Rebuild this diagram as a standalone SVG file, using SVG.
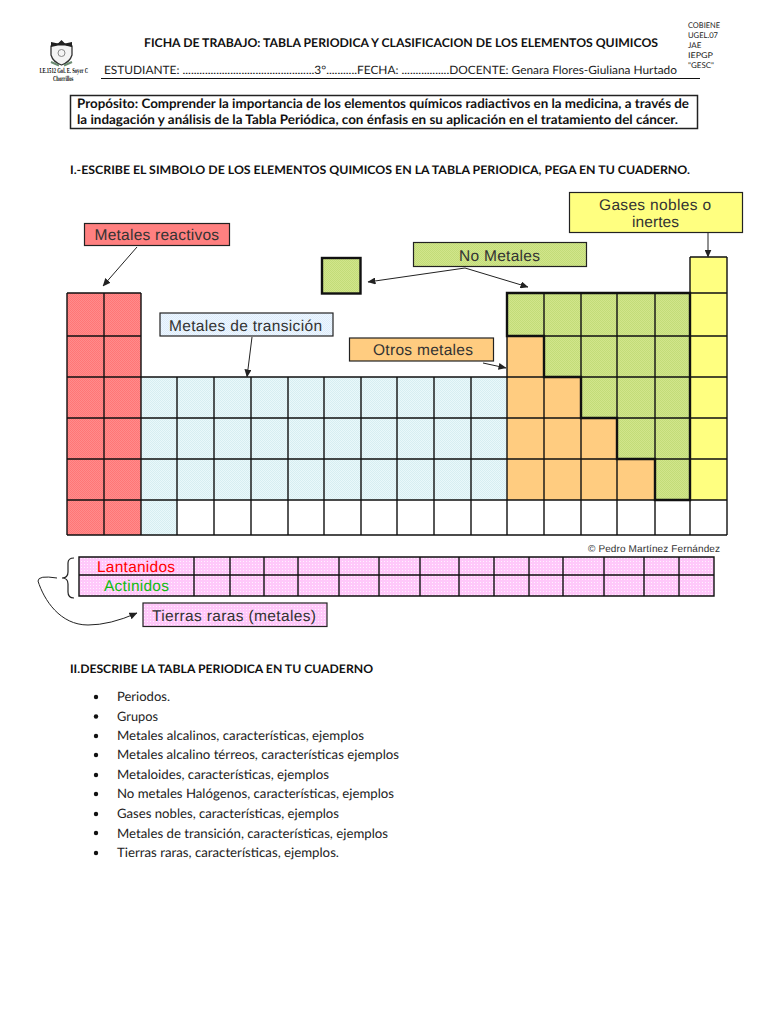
<svg xmlns="http://www.w3.org/2000/svg" width="768" height="1024" viewBox="0 0 768 1024">
<style>
text{text-rendering:geometricPrecision}
.b{font-family:Lato,"Liberation Sans",sans-serif;font-weight:bold;fill:#111}
.r{font-family:Lato,"Liberation Sans",sans-serif;fill:#222}
.v{font-family:"Liberation Sans",sans-serif;fill:#333}
.g{stroke:#111;stroke-width:1.4;fill:none}
.t{stroke:#111;stroke-width:2.4;fill:none}
.k{stroke:#222;stroke-width:1;fill:none}
.box{stroke:#222;stroke-width:1.2}
</style>
<defs>
<marker id="a" markerWidth="8" markerHeight="7" refX="7.500" refY="3.500" orient="auto" markerUnits="userSpaceOnUse"><path d="M0 0L8 3.500L0 7z" fill="#222"/></marker>
<pattern id="red" width="2" height="2" patternUnits="userSpaceOnUse"><rect width="2" height="2" fill="#ff8c8c"/><rect width="1" height="1" fill="#ff7676"/><rect x="1" y="1" width="1" height="1" fill="#ff7676"/></pattern>
<pattern id="blue" width="2" height="2" patternUnits="userSpaceOnUse"><rect width="2" height="2" fill="#eaf8fb"/><rect width="1" height="1" fill="#d6eef1"/><rect x="1" y="1" width="1" height="1" fill="#d6eef1"/></pattern>
<pattern id="green" width="2" height="2" patternUnits="userSpaceOnUse"><rect width="2" height="2" fill="#d2e58c"/><rect width="1" height="1" fill="#c2dc78"/><rect x="1" y="1" width="1" height="1" fill="#c2dc78"/></pattern>
<pattern id="pink" width="3" height="3" patternUnits="userSpaceOnUse"><rect width="3" height="3" fill="#ffc8fa"/><rect width="1" height="1" fill="#fff0ff"/></pattern>
<pattern id="lblue" width="2" height="2" patternUnits="userSpaceOnUse"><rect width="2" height="2" fill="#eef6ff"/><rect width="1" height="1" fill="#dcecfa"/><rect x="1" y="1" width="1" height="1" fill="#dcecfa"/></pattern>
</defs>
<rect width="768" height="1024" fill="#fff"/>
<g id="logo">
<path d="M51 46L61 43L72 46L72 55Q70 62 61.500 65Q53 62 51 55z" fill="#f4f4f4" stroke="#333" stroke-width="1.300"/>
<path d="M51 42L58 43.500L61.500 40L65 43.500L72 42L72 47L65 45.500L58 45.500L51 47z" fill="#222"/>
<circle cx="61.500" cy="53" r="3.500" fill="none" stroke="#888"/>
<path d="M51 62L59 65.500M72 62L64 65.500" stroke="#6a8a70" stroke-width="2"/>
<text transform="translate(39.500 73) scale(.62 1)" font-family="Liberation Serif,serif" font-weight="bold" fill="#111" font-size="7.500">I.E.1512 Gol. E. Soyer C</text>
<text transform="translate(53 81) scale(.62 1)" font-family="Liberation Serif,serif" font-weight="bold" fill="#111" font-size="7.500">Chorrillos</text>
</g>
<g id="header">
<text x="144" y="47" class="b" font-size="12" textLength="514" lengthAdjust="spacingAndGlyphs">FICHA DE TRABAJO: TABLA PERIODICA Y CLASIFICACION DE LOS ELEMENTOS QUIMICOS</text>
<text x="104" y="73.500" class="r" font-size="11.500" textLength="573" lengthAdjust="spacingAndGlyphs">ESTUDIANTE: ...............................................3°...........FECHA: .................DOCENTE: Genara Flores-Giuliana Hurtado</text>
<path d="M101 78.500H700" stroke="#111" stroke-width="1"/>
<g class="r" font-size="8"><text x="688" y="28" textLength="32" lengthAdjust="spacingAndGlyphs">COBIENE</text><text x="688" y="38" textLength="30" lengthAdjust="spacingAndGlyphs">UGEL.07</text><text x="688" y="48">JAE</text><text x="688" y="58" textLength="25" lengthAdjust="spacingAndGlyphs">IEPGP</text><text x="688" y="68" textLength="26" lengthAdjust="spacingAndGlyphs">"GESC"</text></g>
</g>
<g id="proposito">
<rect x="70.500" y="95.500" width="627" height="33" fill="#fff" stroke="#222" stroke-width="1.500"/>
<text x="77" y="107.500" class="b" font-size="13" textLength="612" lengthAdjust="spacingAndGlyphs">Propósito: Comprender la importancia de los elementos químicos radiactivos en la medicina, a través de</text>
<text x="77" y="123.500" class="b" font-size="13" textLength="601" lengthAdjust="spacingAndGlyphs">la indagación y análisis de la Tabla Periódica, con énfasis en su aplicación en el tratamiento del cáncer.</text>
</g>
<text x="70" y="174" class="b" font-size="11.800" textLength="620" lengthAdjust="spacingAndGlyphs">I.-ESCRIBE EL SIMBOLO DE LOS ELEMENTOS QUIMICOS EN LA TABLA PERIODICA, PEGA EN TU CUADERNO.</text>
<g id="table-fills">
<rect x="67" y="293" width="74" height="242" fill="url(#red)"/>
<rect x="141" y="377" width="366" height="123" fill="url(#blue)"/>
<rect x="141" y="500" width="36" height="35" fill="url(#blue)"/>
<path d="M507 293H690V500H655V459H617V418H581V377H544V336H507z" fill="url(#green)"/>
<path d="M507 336H544V377H581V418H617V459H655V500H507z" fill="#ffcc80"/>
<rect x="690" y="257" width="37" height="243" fill="#ffff80"/>
</g>
<g id="table-grid" class="g">
<path d="M67 293H141M507 293H727M690 257H727M67 336H141M507 336H727M67 377H727M67 418H727M67 459H727M67 500H727M67 535H727"/>
<path d="M67 293V535M104 293V535M141 293V535M177 377V535M214 377V535M251 377V535M288 377V535M324 377V535M361 377V535M397 377V535M434 377V535M471 377V535M507 293V535M544 293V535M581 293V535M617 293V535M655 293V535M690 257V535M727 257V535"/>
<path class="t" d="M507 336V293H690V500H655V459H617V418H581V377H544V336z"/>
</g>
<g id="metales-reactivos"><rect class="box" x="84.500" y="223.500" width="145" height="22" fill="#ff8080"/><text x="94.500" y="240" class="v" font-size="15.500" textLength="124.500">Metales reactivos</text></g>
<g id="no-metal-swatch"><rect x="322" y="258" width="38.500" height="35.500" fill="url(#green)" stroke="#111" stroke-width="2.400"/></g>
<g id="metales-transicion"><rect class="box" x="160" y="313" width="173" height="23" fill="url(#lblue)"/><text x="169" y="331" class="v" font-size="15.500" textLength="153">Metales de transición</text></g>
<g id="no-metales"><rect class="box" x="413.500" y="242.500" width="173" height="24" fill="url(#green)"/><text x="459" y="261" class="v" font-size="15.500" textLength="81">No Metales</text></g>
<g id="otros-metales"><rect class="box" x="349.500" y="338" width="144" height="23" fill="#ffcc80"/><text x="373" y="355" class="v" font-size="15.500" textLength="100">Otros metales</text></g>
<g id="gases-nobles"><rect class="box" x="569.500" y="192.500" width="173" height="40" fill="#ffff80"/><text x="599" y="210" class="v" font-size="15.500" textLength="112">Gases nobles o</text><text x="632" y="227" class="v" font-size="15.500" textLength="47">inertes</text></g>
<g id="connectors" class="k">
<path d="M137 247L103 286" marker-end="url(#a)"/>
<path d="M252 337L247 377" marker-end="url(#a)"/>
<path d="M465 268L368 282" marker-end="url(#a)"/>
<path d="M465 268L528 287" marker-end="url(#a)"/>
<path d="M483 363L506 368" marker-end="url(#a)"/>
<path d="M708 232V257" marker-end="url(#a)"/>
<path d="M57 578Q38 575 38 581C44 600 60 625 88 625Q110 625 137 613" marker-end="url(#a)"/>
<path d="M74 558Q68 558 68 563V572Q68 578 62 578Q68 578 68 584V592Q68 598 74 598" stroke-width="1.200"/>
</g>
<text x="588" y="552" class="v" font-size="10" id="credit" textLength="132">© Pedro Martínez Fernández</text>
<g id="tierras-raras-table">
<rect x="79" y="557" width="635" height="39" fill="url(#pink)"/>
<path class="g" d="M79 557H714V596H79zM79 575H714M194 557V596M230 557V596M264 557V596M298 557V596M339 557V596M379 557V596M420 557V596M459 557V596M494 557V596M529 557V596M563 557V596M604 557V596M644 557V596M679 557V596"/>
<text x="97" y="572" font-family="Liberation Sans,sans-serif" font-size="15.500" fill="#f00" textLength="78">Lantanidos</text>
<text x="104" y="591" font-family="Liberation Sans,sans-serif" font-size="15.500" fill="#1b1" textLength="65">Actinidos</text>
</g>
<g id="tierras-raras"><rect class="box" x="143" y="603" width="184" height="23.500" fill="url(#pink)"/><text x="152" y="621" class="v" font-size="15.500" textLength="164">Tierras raras (metales)</text></g>
<text x="70" y="672.500" class="b" font-size="11.800" textLength="303" lengthAdjust="spacingAndGlyphs">II.DESCRIBE LA TABLA PERIODICA EN TU CUADERNO</text>
<g id="lista" class="r" font-size="13">
<text x="117" y="701" textLength="53" lengthAdjust="spacingAndGlyphs">Periodos.</text>
<text x="117" y="721" textLength="41" lengthAdjust="spacingAndGlyphs">Grupos</text>
<text x="117" y="740" textLength="247" lengthAdjust="spacingAndGlyphs">Metales alcalinos, características, ejemplos</text>
<text x="117" y="759" textLength="282" lengthAdjust="spacingAndGlyphs">Metales alcalino térreos, características ejemplos</text>
<text x="117" y="779" textLength="212" lengthAdjust="spacingAndGlyphs">Metaloides, características, ejemplos</text>
<text x="117" y="798" textLength="277" lengthAdjust="spacingAndGlyphs">No metales Halógenos, características, ejemplos</text>
<text x="117" y="818" textLength="222" lengthAdjust="spacingAndGlyphs">Gases nobles, características, ejemplos</text>
<text x="117" y="838" textLength="271" lengthAdjust="spacingAndGlyphs">Metales de transición, características, ejemplos</text>
<text x="117" y="857" textLength="222" lengthAdjust="spacingAndGlyphs">Tierras raras, características, ejemplos.</text>
<g fill="#111"><circle cx="96" cy="697" r="2.200"/><circle cx="96" cy="716.500" r="2.200"/><circle cx="96" cy="736" r="2.200"/><circle cx="96" cy="755" r="2.200"/><circle cx="96" cy="775" r="2.200"/><circle cx="96" cy="794" r="2.200"/><circle cx="96" cy="814" r="2.200"/><circle cx="96" cy="833" r="2.200"/><circle cx="96" cy="853" r="2.200"/></g>
</g>
</svg>
